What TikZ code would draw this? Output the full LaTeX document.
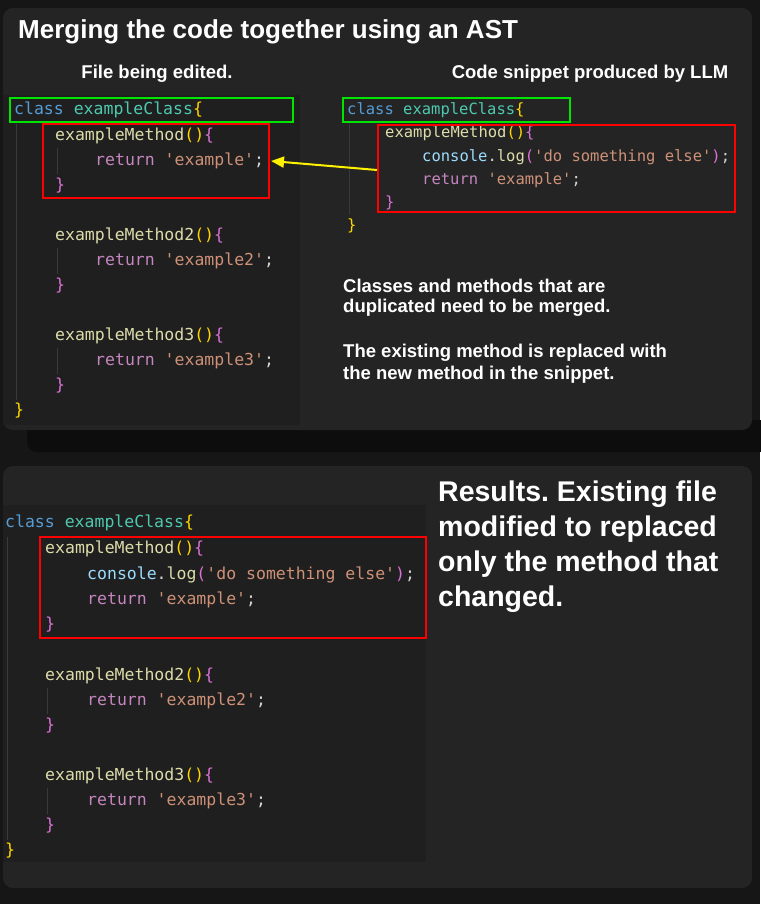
\documentclass[tikz,border=0pt]{standalone}
\usepackage{fontspec}
\setmainfont{Liberation Sans}
\newfontfamily\cf{DejaVu Sans Mono}
\usetikzlibrary{arrows.meta}
\frenchspacing
\definecolor{bgc}{HTML}{161616}
\definecolor{pan}{HTML}{242424}
\definecolor{codebg}{HTML}{1F1F1F}
\definecolor{kw}{HTML}{569CD6}
\definecolor{cls}{HTML}{4EC9B0}
\definecolor{br}{HTML}{FFD700}
\definecolor{fn}{HTML}{DCDCAA}
\definecolor{mg}{HTML}{DA70D6}
\definecolor{ret}{HTML}{C586C0}
\definecolor{str}{HTML}{CE9178}
\definecolor{var}{HTML}{9CDCFE}
\definecolor{pl}{HTML}{D4D4D4}
\definecolor{gline}{HTML}{3A3A3A}
\begin{document}
\begin{tikzpicture}[x=1pt,y=-1pt,
  code/.style={anchor=west,inner sep=0pt,font=\cf\fontsize{16.5}{18}\selectfont},
  codes/.style={anchor=west,inner sep=0pt,font=\cf\fontsize{15.5}{18}\selectfont},
  lbl/.style={anchor=west,inner sep=0pt,text=white,font=\bfseries\fontsize{18.5}{22}\selectfont},
  gbox/.style={draw=green!90!black,line width=2.2pt},
  rbox/.style={draw=red,line width=2pt},
  guide/.style={draw=gline,line width=0.8pt}]
\useasboundingbox (0,0) rectangle (760,904);
\fill[bgc] (0,0) rectangle (760,904);
\fill[black!95] (27,420) [rounded corners=10pt] rectangle (770,452);
\fill[pan,rounded corners=10pt] (3,8) rectangle (752,430);
\fill[pan,rounded corners=10pt] (3,466) rectangle (752,888);
\fill[codebg] (3,95) rectangle (300,425);
\fill[codebg] (3,505) rectangle (426,862);
% titles
\node[lbl,font=\bfseries\fontsize{26}{30}\selectfont] (title) at (18,32) {Merging the code together using an AST};
\node[lbl,anchor=center] (l1) at (157,74) {File being edited.};
\node[lbl,anchor=center] (l2) at (590,74) {Code snippet produced by LLM};
% left code
\draw[guide] (16,124) -- (16,400);
\draw[guide] (57,148) -- (57,174) (57,248) -- (57,274) (57,348) -- (57,374);
\node[code] (a1) at (14,110) {\textcolor{kw}{class} \textcolor{cls}{exampleClass}\textcolor{br}{\{}};
\node[code] (a2) at (55,136) {\textcolor{fn}{exampleMethod}\textcolor{br}{()}\textcolor{mg}{\{}};
\node[code] (a3) at (95,161) {\textcolor{ret}{return} \textcolor{str}{'example'}\textcolor{pl}{;}};
\node[code] (a4) at (55,186) {\textcolor{mg}{\}}};
\node[code] (a5) at (55,236) {\textcolor{fn}{exampleMethod2}\textcolor{br}{()}\textcolor{mg}{\{}};
\node[code] (a6) at (95,261) {\textcolor{ret}{return} \textcolor{str}{'example2'}\textcolor{pl}{;}};
\node[code] (a7) at (55,286) {\textcolor{mg}{\}}};
\node[code] (a8) at (55,336) {\textcolor{fn}{exampleMethod3}\textcolor{br}{()}\textcolor{mg}{\{}};
\node[code] (a9) at (95,361) {\textcolor{ret}{return} \textcolor{str}{'example3'}\textcolor{pl}{;}};
\node[code] (a10) at (55,386) {\textcolor{mg}{\}}};
\node[code] (a11) at (14,411) {\textcolor{br}{\}}};
\draw[gbox] (10,98) rectangle (293,122);
\draw[rbox] (43,124) rectangle (269,198);
\coordinate (ltgt) at (271,161);
% right code
\draw[guide] (349,124) -- (349,214);
\node[codes] (b1) at (347,110) {\textcolor{kw}{class} \textcolor{cls}{exampleClass}\textcolor{br}{\{}};
\node[codes] (b2) at (385,133) {\textcolor{fn}{exampleMethod}\textcolor{br}{()}\textcolor{mg}{\{}};
\node[codes] (b3) at (422,157) {\textcolor{var}{console}\textcolor{pl}{.}\textcolor{fn}{log}\textcolor{mg}{(}\textcolor{str}{'do something else'}\textcolor{mg}{)}\textcolor{pl}{;}};
\node[codes] (b4) at (422,180) {\textcolor{ret}{return} \textcolor{str}{'example'}\textcolor{pl}{;}};
\node[codes] (b5) at (385,203) {\textcolor{mg}{\}}};
\node[codes] (b6) at (347,226) {\textcolor{br}{\}}};
\draw[gbox] (343,98) rectangle (570,122);
\draw[rbox] (378,125) rectangle (735,212);
\coordinate (rsrc) at (377,170);
\draw[yellow,line width=2pt,-{Triangle[length=13pt,width=11pt]}] (rsrc) .. controls (330,166) .. (ltgt);
% notes
\node[lbl] (n1) at (343,286) {Classes and methods that are};
\node[lbl] (n2) at (343,308) {duplicated need to be merged.};
\node[lbl] (n3) at (343,353) {The existing method is replaced with};
\node[lbl] (n4) at (343,375) {the new method in the snippet.};
% bottom
\draw[guide] (7,537) -- (7,840);
\draw[guide] (47,688) -- (47,714) (47,788) -- (47,814);
\node[code] (c1) at (5,523) {\textcolor{kw}{class} \textcolor{cls}{exampleClass}\textcolor{br}{\{}};
\node[code] (c2) at (45,549) {\textcolor{fn}{exampleMethod}\textcolor{br}{()}\textcolor{mg}{\{}};
\node[code] (c3) at (87,575) {\textcolor{var}{console}\textcolor{pl}{.}\textcolor{fn}{log}\textcolor{mg}{(}\textcolor{str}{'do something else'}\textcolor{mg}{)}\textcolor{pl}{;}};
\node[code] (c4) at (87,600) {\textcolor{ret}{return} \textcolor{str}{'example'}\textcolor{pl}{;}};
\node[code] (c5) at (45,625) {\textcolor{mg}{\}}};
\node[code] (c6) at (45,676) {\textcolor{fn}{exampleMethod2}\textcolor{br}{()}\textcolor{mg}{\{}};
\node[code] (c7) at (87,701) {\textcolor{ret}{return} \textcolor{str}{'example2'}\textcolor{pl}{;}};
\node[code] (c8) at (45,726) {\textcolor{mg}{\}}};
\node[code] (c9) at (45,776) {\textcolor{fn}{exampleMethod3}\textcolor{br}{()}\textcolor{mg}{\{}};
\node[code] (c10) at (87,801) {\textcolor{ret}{return} \textcolor{str}{'example3'}\textcolor{pl}{;}};
\node[code] (c11) at (45,826) {\textcolor{mg}{\}}};
\node[code] (c12) at (5,851) {\textcolor{br}{\}}};
\draw[rbox] (40,537) rectangle (426,638);
\node[lbl,align=left,anchor=north west,font=\bfseries\fontsize{28.5}{35}\selectfont] (res) at (438,481) {Results. Existing file\\modified to replaced\\only the method that\\changed.};
\end{tikzpicture}
\end{document}
